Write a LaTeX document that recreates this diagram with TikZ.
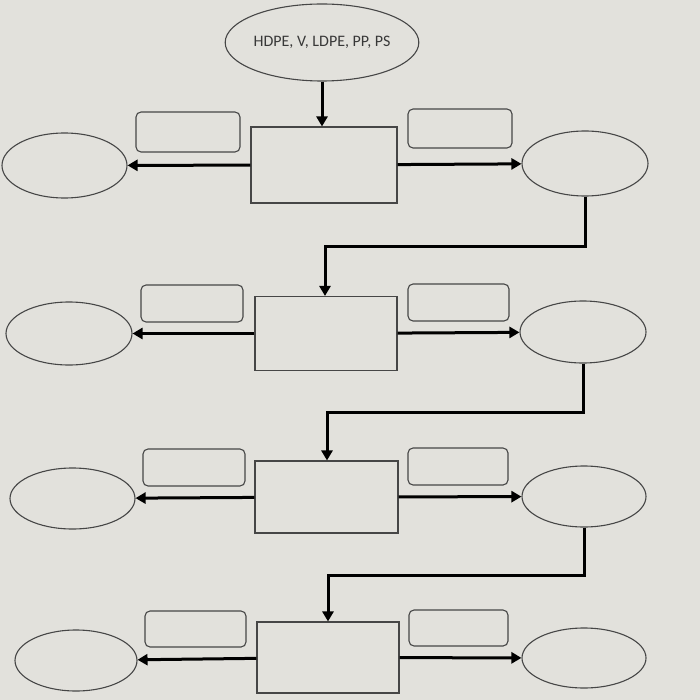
\documentclass[tikz,border=0pt]{standalone}
\usepackage{fontspec}
\setmainfont{Carlito}
\usepackage{xcolor}
\usepackage{tikz}
\usetikzlibrary{shapes,arrows.meta,positioning,calc}

\definecolor{paper}{RGB}{226,225,220}
\definecolor{edge}{RGB}{70,70,70}

\begin{document}
\begin{tikzpicture}[x=1pt, y=-1pt,
    source/.style={ellipse, draw=edge, line width=1.1pt, inner sep=0pt},
    stage/.style={rectangle, draw=edge, line width=1.1pt, inner sep=0pt},
    tag/.style={rectangle, rounded corners=5pt, draw=edge, line width=1.1pt, inner sep=0pt},
    arrow/.style={-{Triangle[length=10pt,width=11pt]}, line width=3pt, black}]

    \fill[paper] (0,0) rectangle (700,700);
    \useasboundingbox (0,0) rectangle (700,700);

    \node[source, minimum width=186pt, minimum height=77pt, text=edge!80!black, font=\fontsize{16}{18}\selectfont] (feed) at (322,42.5) {HDPE, V, LDPE, PP, PS};

    % stage 1
    \node[stage, minimum width=146pt, minimum height=76pt] (b1) at (324,165) {};
    \node[source, minimum width=125pt, minimum height=65pt] (l1) at (64.5,165.5) {};
    \node[tag, minimum width=104pt, minimum height=40pt] (lt1) at (188,132) {};
    \node[tag, minimum width=104pt, minimum height=39pt] (rt1) at (460,128.5) {};
    \node[source, minimum width=126pt, minimum height=65pt] (r1) at (585,163.5) {};

    % stage 2
    \node[stage, minimum width=142pt, minimum height=74pt] (b2) at (326,333.5) {};
    \node[source, minimum width=126pt, minimum height=63pt] (l2) at (69,333.5) {};
    \node[tag, minimum width=102pt, minimum height=37pt] (lt2) at (192,303.5) {};
    \node[tag, minimum width=101pt, minimum height=37pt] (rt2) at (458.5,302.5) {};
    \node[source, minimum width=126pt, minimum height=62pt] (r2) at (583,332) {};

    % stage 3
    \node[stage, minimum width=143pt, minimum height=72pt] (b3) at (326.5,497) {};
    \node[source, minimum width=125pt, minimum height=61pt] (l3) at (72.5,498.5) {};
    \node[tag, minimum width=102pt, minimum height=37pt] (lt3) at (194,467.5) {};
    \node[tag, minimum width=100pt, minimum height=37pt] (rt3) at (458,466.5) {};
    \node[source, minimum width=124pt, minimum height=61pt] (r3) at (584,496.5) {};

    % stage 4
    \node[stage, minimum width=142pt, minimum height=71pt] (b4) at (328,657.5) {};
    \node[source, minimum width=122pt, minimum height=61pt] (l4) at (76,660.5) {};
    \node[tag, minimum width=101pt, minimum height=36pt] (lt4) at (195.5,629) {};
    \node[tag, minimum width=99pt, minimum height=36pt] (rt4) at (458.5,628) {};
    \node[source, minimum width=124pt, minimum height=60pt] (r4) at (584,658) {};

    \coordinate (k1) at (325,247);
    \coordinate (k2) at (327,412);
    \coordinate (k3) at (328,575);

    \draw[arrow] (feed.south) -- (feed.south |- b1.north);

    \draw[arrow] (b1) -- (l1);
    \draw[arrow] (b1) -- (r1);
    \draw[arrow] (r1.south) |- (k1) -- (k1 |- b2.north);

    \draw[arrow] (b2) -- (l2);
    \draw[arrow] (b2) -- (r2);
    \draw[arrow] (r2.south) |- (k2) -- (k2 |- b3.north);

    \draw[arrow] (b3) -- (l3);
    \draw[arrow] (b3) -- (r3);
    \draw[arrow] (r3.south) |- (k3) -- (k3 |- b4.north);

    \draw[arrow] (b4) -- (l4);
    \draw[arrow] (b4) -- (r4);
\end{tikzpicture}
\end{document}
